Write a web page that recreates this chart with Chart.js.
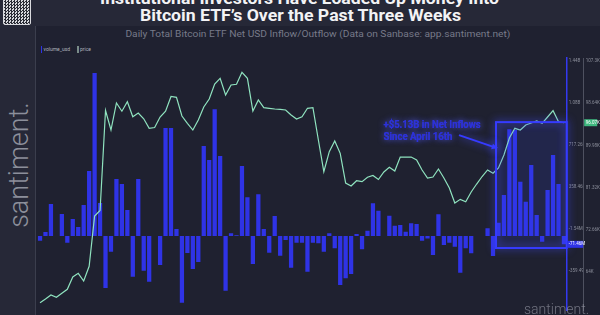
<!DOCTYPE html>
<html>
<head>
<meta charset="utf-8">
<script src="https://cdn.jsdelivr.net/npm/chart.js@4.4.1/dist/chart.umd.min.js"></script>
<style>
  html, body { margin: 0; padding: 0; width: 600px; height: 315px; overflow: hidden; background: #262837; font-family: Roboto, "Noto Sans", sans-serif; }
  #wrap { position: relative; width: 600px; height: 315px; }
  #panel { position: absolute; left: 35px; top: 26px; width: 565px; height: 289px; background: #1f2130; border-left: 1px solid #3b3e4d; }
  canvas { position: absolute; left: 0; top: 0; }
  .fit { position: absolute; white-space: nowrap; transform-origin: center center; }
  .title { color: #f3f3f5; font-weight: 700; font-size: 17px; line-height: 17px; }
  .sub { color: #777a89; font-size: 9px; line-height: 10px; }
  .legend { position: absolute; top: 45.5px; font-size: 5px; line-height: 7px; color: #aeb1bc; padding-left: 3px; }
  .legend::before { content: ""; position: absolute; left: 0; top: 0; width: 1.5px; height: 7px; }
  #lgVol::before { background: #2f33e6; }
  #lgPrice::before { background: #7a8c88; }
  #brand { position: absolute; left: -51px; top: 150px; width: 140px; height: 30px; line-height: 30px; text-align: center; transform: rotate(-90deg); color: #8c8f9b; font-size: 27px; font-weight: 300; }
  #mark { position: absolute; left: 524px; top: 301px; color: rgba(190,192,204,0.5); font-size: 14px; font-weight: 300; }
  #qr { position: absolute; left: 3px; top: -2px; width: 26px; height: 25px; border-radius: 2px; background: repeating-conic-gradient(#2a2c35 0 25%, #d9dade 0 50%) 0 0 / 3px 3px; border: 1px solid #d9dade; }
</style>
</head>
<body>
<div id="wrap">
  <div id="panel"></div>
  <div id="qr"></div>
  <div id="brand">santiment.</div>
  <div class="fit title" id="t1" data-w="399" data-cx="299.5" style="top:-10px">Institutional Investors Have Loaded Up Money Into</div>
  <div class="fit title" id="t2" data-w="321" data-cx="300.4" style="top:7px">Bitcoin ETF’s Over the Past Three Weeks</div>
  <div class="fit sub" id="st" data-w="385" data-cx="317.7" style="top:28.5px">Daily Total Bitcoin ETF Net USD Inflow/Outflow (Data on Sanbase: app.santiment.net)</div>
  <div class="legend" id="lgVol" style="left:40.5px">volume_usd</div>
  <div class="legend" id="lgPrice" style="left:77px">price</div>
  <canvas id="chart" width="600" height="315"></canvas>
  <div id="mark">santiment.</div>
</div>
<script>
// daily net flow, millions of USD
const volumeUsd = [
  -40, 34, 274, 0, 189, -57, 146, 77, 266, 557,
  1397, 283, -446, -135, 488, 446, 223, -349, 488, -297,
  -392, 0, -249, 926, 926, 60, -572, -146, -283, -223,
  771, 651, 1086, 686, -469, 23, 6, 600, 332, -240,
  357, 60, -143, 171, -169, -34, -272, -57, -57, -306,
  -57, -63, -135, 23, -105, -420, -363, -326, 17, -114,
  45, 280, 217, 0, 174, 88, 94, 37, 109, 103,
  -40, -21, -163, 186, -77, -57, -92, -315, -105, -148,
  0, 0, 66, -171, 114, 351, 914, 908, 465, 294,
  608, 180, -49, 394, 694, 446, -71.46
];

// BTC price, thousands of USD
const price = [
  59.14, 59.90, 60.72, 60.24, 61.07, 61.89, 64.41, 65.17, 63.59, 66.61,
  76.93, 78.06, 98.58, 94.57, 100.12, 98.43, 100.38, 97.30, 98.06, 96.87,
  94.92, 95.09, 97.24, 98.43, 101.45, 101.28, 97.45, 95.95, 94.57, 96.63,
  99.29, 100.94, 104.01, 105.18, 101.76, 103.81, 103.95, 106.41, 105.18, 98.47,
  100.73, 99.15, 99.03, 98.88, 98.82, 98.68, 97.65, 96.83, 97.30, 99.03,
  99.15, 92.52, 86.02, 90.12, 92.32, 89.79, 83.70, 83.08, 84.17, 83.97,
  84.87, 85.24, 84.42, 85.96, 86.92, 86.16, 89.03, 89.03, 89.03, 88.42,
  86.37, 84.73, 84.93, 86.57, 84.73, 82.67, 79.60, 80.35, 79.86, 81.85,
  83.49, 85.03, 86.37, 85.69, 86.78, 89.44, 92.93, 94.92, 94.57, 95.60,
  96.01, 96.42, 95.95, 97.24, 98.54, 96.28, 96.07
];

const days = volumeUsd.map((_, i) => 'day ' + (i + 1));

const volTicks = [1440, 1080, 717.26, 358.46, -1.54, -359.49];
const volTickLabels = ['1.44B', '1.08B', '717.26M', '358.46M', '-1.54M', '-359.49M'];
const priceTicks = [107.3, 98.64, 89.98, 81.32, 72.66, 64];
const priceTickLabels = ['107.3K', '98.64K', '89.98K', '81.32K', '72.66K', '64K'];

// callout box since April 16th, in data units
const boxFrom = 83.55;
const boxTop = 976;
const boxBottom = -103;
const calloutLines = ['+$5.13B in Net Inflows', 'Since April 16th'];

const BLUE = '#2f33e6';
const MINT = '#8fe3bf';

// squeeze header texts to the measured widths
document.querySelectorAll('.fit').forEach(el => {
  const w = el.getBoundingClientRect().width;
  const target = +el.dataset.w;
  el.style.left = (+el.dataset.cx - w / 2) + 'px';
  el.style.transform = 'scaleX(' + (target / w) + ')';
});

const calloutPlugin = {
  id: 'callout',
  afterDatasetsDraw(chart) {
    const { ctx, chartArea, scales } = chart;
    const x = scales.x, yv = scales.yVol, yp = scales.yPrice;
    const step = x.getPixelForValue(1) - x.getPixelForValue(0);
    const left = x.getPixelForValue(0) + boxFrom * step;
    const right = chartArea.right;
    const top = yv.getPixelForValue(boxTop);
    const bottom = yv.getPixelForValue(boxBottom);

    ctx.save();
    ctx.shadowColor = '#4a50ff';
    ctx.shadowBlur = 8;
    ctx.strokeStyle = '#363bff';
    ctx.lineWidth = 2;
    ctx.strokeRect(left, top, right - left, bottom - top);
    ctx.fillStyle = 'rgba(60,66,255,0.07)';
    ctx.fillRect(left, top, right - left, bottom - top);

    // arrow
    const ax0 = left - 37, ay0 = top + 13, ax1 = left + 1, ay1 = top + 26;
    ctx.beginPath();
    ctx.moveTo(ax0, ay0);
    ctx.lineTo(ax1, ay1);
    ctx.stroke();
    const ang = Math.atan2(ay1 - ay0, ax1 - ax0);
    ctx.beginPath();
    ctx.moveTo(ax1 + 1, ay1);
    ctx.lineTo(ax1 - 6 * Math.cos(ang - 0.5), ay1 - 6 * Math.sin(ang - 0.5));
    ctx.lineTo(ax1 - 6 * Math.cos(ang + 0.5), ay1 - 6 * Math.sin(ang + 0.5));
    ctx.closePath();
    ctx.fillStyle = '#363bff';
    ctx.fill();

    // callout text
    ctx.font = 'bold 10px Roboto';
    ctx.textBaseline = 'alphabetic';
    ctx.textAlign = 'left';
    const widths = [97, 69];
    calloutLines.forEach((line, k) => {
      const w = ctx.measureText(line).width;
      ctx.save();
      ctx.translate(left - 112.5, top + 5.5 + k * 12.5);
      ctx.scale(widths[k] / w, 1);
      ctx.shadowColor = '#5a60ff';
      ctx.shadowBlur = 6;
      ctx.fillStyle = '#2d32d8';
      ctx.fillText(line, 0, 0);
      ctx.shadowBlur = 0;
      ctx.fillText(line, 0, 0);
      ctx.restore();
    });
    ctx.restore();

    // last value badges on the right axes
    const lastVol = volumeUsd[volumeUsd.length - 1];
    const lastPrice = price[price.length - 1];
    ctx.save();
    ctx.font = '4.5px Roboto';
    ctx.textBaseline = 'middle';
    ctx.textAlign = 'left';
    let by = yv.getPixelForValue(lastVol);
    ctx.fillStyle = BLUE;
    ctx.fillRect(yv.left + 0.5, by - 3.5, yv.width - 1, 7);
    ctx.fillStyle = '#ffffff';
    ctx.fillText(lastVol.toFixed(2) + 'M', yv.left + 2, by);
    by = yp.getPixelForValue(lastPrice);
    ctx.fillStyle = '#3fb77f';
    ctx.fillRect(yp.left + 0.5, by - 3.5, 13, 7);
    ctx.fillStyle = '#ffffff';
    ctx.fillText(lastPrice.toFixed(2) + 'K', yp.left + 2, by);
    ctx.restore();
  }
};

new Chart(document.getElementById('chart'), {
  data: {
    labels: days,
    datasets: [
      {
        type: 'line',
        label: 'price',
        data: price,
        yAxisID: 'yPrice',
        borderColor: MINT,
        borderWidth: 1.2,
        pointRadius: 0,
        tension: 0,
        order: 1
      },
      {
        type: 'bar',
        label: 'volume_usd',
        data: volumeUsd,
        yAxisID: 'yVol',
        backgroundColor: BLUE,
        barPercentage: 0.78,
        categoryPercentage: 1,
        order: 2
      }
    ]
  },
  options: {
    responsive: false,
    animation: false,
    layout: { padding: { left: 37.3, top: 58, bottom: 5, right: 0 } },
    plugins: { legend: { display: false }, tooltip: { enabled: false } },
    scales: {
      x: { type: 'category', offset: true, display: false },
      yVol: {
        position: 'right',
        weight: 0,
        min: -634.2,
        max: 1525.5,
        grid: { display: false, drawTicks: false },
        border: { display: true, color: '#3439f0', width: 1.5 },
        afterBuildTicks: axis => { axis.ticks = volTicks.map(v => ({ value: v })); },
        afterFit: axis => { axis.width = 17; },
        ticks: {
          font: { size: 4.5, family: 'Roboto' },
          color: '#8a8d99',
          padding: 2,
          labelOffset: -7,
          callback: (v, i) => volTickLabels[i]
        }
      },
      yPrice: {
        position: 'right',
        weight: 1,
        min: 57.64,
        max: 109.35,
        grid: { display: false, drawTicks: false },
        border: { display: true, color: '#4e5160', width: 1 },
        afterBuildTicks: axis => { axis.ticks = priceTicks.map(v => ({ value: v })); },
        afterFit: axis => { axis.width = 16.3; },
        ticks: {
          font: { size: 4.5, family: 'Roboto' },
          color: '#8a8d99',
          padding: 2,
          labelOffset: -7,
          callback: (v, i) => priceTickLabels[i]
        }
      }
    }
  },
  plugins: [calloutPlugin]
});
</script>
</body>
</html>
